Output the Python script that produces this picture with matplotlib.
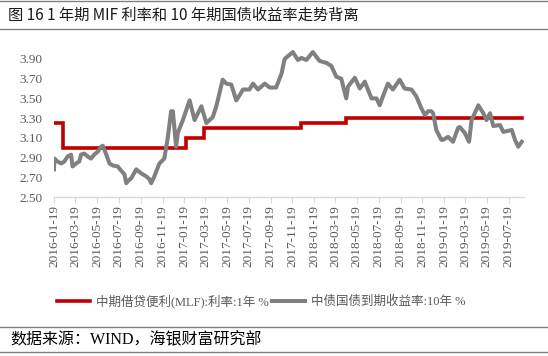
#!/usr/bin/env python3
"""1 年期 MLF 利率与 10 年期国债收益率走势对比图。"""

import matplotlib
matplotlib.use("Agg")
import matplotlib.pyplot as plt
from matplotlib.lines import Line2D
import pandas as pd

# 1 年期 MLF 利率 (%), 阶梯变化
mlf_dates = ["2016-01-19", "2016-02-12", "2017-01-24", "2017-03-16",
             "2017-12-14", "2018-04-17", "2019-08-25"]
mlf_rate = [3.25, 3.00, 3.10, 3.20, 3.25, 3.30, 3.30]

# 10 年期国债到期收益率 (%)
cgb_dates = [
    "2016-01-19", "2016-01-20", "2016-01-29", "2016-02-08", "2016-02-17", "2016-02-26",
    "2016-03-07", "2016-03-11", "2016-03-21", "2016-03-30", "2016-04-04", "2016-04-13",
    "2016-04-23", "2016-05-02", "2016-05-11", "2016-05-21", "2016-05-30", "2016-06-04",
    "2016-06-13", "2016-06-23", "2016-07-02", "2016-07-16", "2016-07-25", "2016-08-04",
    "2016-08-09", "2016-08-13", "2016-08-23", "2016-09-06", "2016-09-20", "2016-10-04",
    "2016-10-13", "2016-10-18", "2016-10-27", "2016-11-10", "2016-11-24", "2016-12-04",
    "2016-12-13", "2016-12-18", "2016-12-27", "2017-01-01", "2017-01-15", "2017-02-03",
    "2017-02-17", "2017-03-08", "2017-03-22", "2017-04-09", "2017-04-19", "2017-05-07",
    "2017-05-17", "2017-05-31", "2017-06-14", "2017-06-23", "2017-07-03", "2017-07-21",
    "2017-07-31", "2017-08-14", "2017-09-02", "2017-09-16", "2017-10-04", "2017-10-19",
    "2017-10-28", "2017-11-20", "2017-12-04", "2017-12-14", "2017-12-28", "2018-01-15",
    "2018-02-03", "2018-02-22", "2018-03-08", "2018-03-22", "2018-04-05", "2018-04-19",
    "2018-04-24", "2018-05-13", "2018-05-27", "2018-06-10", "2018-06-29", "2018-07-13",
    "2018-07-22", "2018-07-31", "2018-08-14", "2018-08-28", "2018-09-16", "2018-09-30",
    "2018-10-19", "2018-11-02", "2018-11-16", "2018-11-26", "2018-12-05", "2018-12-14",
    "2018-12-19", "2018-12-28", "2019-01-11", "2019-01-16", "2019-01-30", "2019-02-13",
    "2019-02-27", "2019-03-04", "2019-03-18", "2019-03-30", "2019-04-06", "2019-04-25",
    "2019-05-09", "2019-05-18", "2019-05-28", "2019-06-06", "2019-06-25", "2019-07-04",
    "2019-07-28", "2019-08-06", "2019-08-15", "2019-08-25",
]
cgb_yield = [
    2.78, 2.89, 2.86, 2.84, 2.86, 2.91,
    2.93, 2.81, 2.84, 2.86, 2.93, 2.94,
    2.91, 2.89, 2.93, 2.96, 3.01, 3.02,
    2.94, 2.84, 2.82, 2.81, 2.77, 2.73,
    2.64, 2.66, 2.69, 2.78, 2.74, 2.71,
    2.68, 2.64, 2.71, 2.84, 2.89, 3.11,
    3.37, 3.37, 3.01, 3.15, 3.28, 3.48,
    3.28, 3.42, 3.25, 3.31, 3.42, 3.69,
    3.65, 3.64, 3.48, 3.53, 3.59, 3.59,
    3.65, 3.59, 3.65, 3.61, 3.61, 3.75,
    3.90, 3.97, 3.89, 3.91, 3.89, 3.97,
    3.88, 3.86, 3.83, 3.72, 3.70, 3.50,
    3.62, 3.71, 3.60, 3.67, 3.50, 3.50,
    3.43, 3.52, 3.65, 3.59, 3.69, 3.60,
    3.59, 3.52, 3.40, 3.33, 3.37, 3.37,
    3.35, 3.18, 3.08, 3.08, 3.11, 3.06,
    3.20, 3.21, 3.15, 3.06, 3.28, 3.43,
    3.35, 3.28, 3.35, 3.22, 3.23, 3.16,
    3.18, 3.08, 3.01, 3.06,
]

x_ticks = [
    "2016-01-19", "2016-03-19", "2016-05-19", "2016-07-19", "2016-09-19", "2016-11-19",
    "2017-01-19", "2017-03-19", "2017-05-19", "2017-07-19", "2017-09-19", "2017-11-19",
    "2018-01-19", "2018-03-19", "2018-05-19", "2018-07-19", "2018-09-19", "2018-11-19",
    "2019-01-19", "2019-03-19", "2019-05-19", "2019-07-19",
]
y_ticks = [2.50, 2.70, 2.90, 3.10, 3.30, 3.50, 3.70, 3.90]

title = "图 16 1 年期 MIF 利率和 10 年期国债收益率走势背离"
source = "数据来源：WIND，海银财富研究部"
mlf_label = "中期借贷便利(MLF):利率:1年 %"
cgb_label = "中债国债到期收益率:10年 %"

RED = "#C00000"
GRAY = "#808080"
TICK_COLOR = "#595959"
SERIF_CJK = ["Liberation Serif", "Noto Sans CJK SC"]

fig = plt.figure(figsize=(5.48, 3.56), dpi=100)
ax = fig.add_axes([0.0985, 0.4466, 0.8575, 0.4155])

ax.plot(pd.to_datetime(mlf_dates), mlf_rate, color=RED, linewidth=2.6,
        drawstyle="steps-post", label=mlf_label, solid_joinstyle="miter")
ax.plot(pd.to_datetime(cgb_dates), cgb_yield, color=GRAY, linewidth=2.9,
        label=cgb_label)

ax.set_xlim(pd.Timestamp("2016-01-19"), pd.Timestamp("2019-08-31"))
ax.set_ylim(2.5, 4.0)
ax.set_yticks(y_ticks)
ax.set_yticklabels([f"{v:.2f}" for v in y_ticks], family="Liberation Serif",
                   fontsize=9.5, color=TICK_COLOR)
ax.set_xticks(pd.to_datetime(x_ticks))
ax.set_xticklabels(x_ticks, rotation=90, family="Liberation Serif",
                   fontsize=9.5, color=TICK_COLOR)
ax.tick_params(axis="y", length=0, pad=8)
ax.tick_params(axis="x", length=4, color="#d9d9d9", direction="out", pad=2)

for side in ("top", "right", "left"):
    ax.spines[side].set_visible(False)
ax.spines["bottom"].set_color("#d9d9d9")
ax.spines["bottom"].set_linewidth(1.0)

# legend below the plot
handles, labels = ax.get_legend_handles_labels()
fig.legend(handles, labels, loc="center", bbox_to_anchor=(0.477, 1 - 301 / 356),
           ncol=2, frameon=False, handlelength=2.6, handletextpad=0.5,
           columnspacing=0.3, prop={"family": SERIF_CJK, "size": 9},
           labelcolor=TICK_COLOR)

# title, source and separator rules
fig.text(8 / 548, 1 - 15 / 356, title, family=["Noto Sans CJK SC", "DejaVu Sans"],
         fontsize=11, va="center", ha="left", color="#1a1a1a")
fig.text(10 / 548, 1 - 340 / 356, source, family=SERIF_CJK,
         fontsize=11.5, va="center", ha="left", color="black")
for yy in (1, 29, 327, 352):
    fig.add_artist(Line2D([0, 1], [1 - yy / 356] * 2, color=GRAY, linewidth=1.0,
                          transform=fig.transFigure))

fig.savefig("out.png", dpi=100)
